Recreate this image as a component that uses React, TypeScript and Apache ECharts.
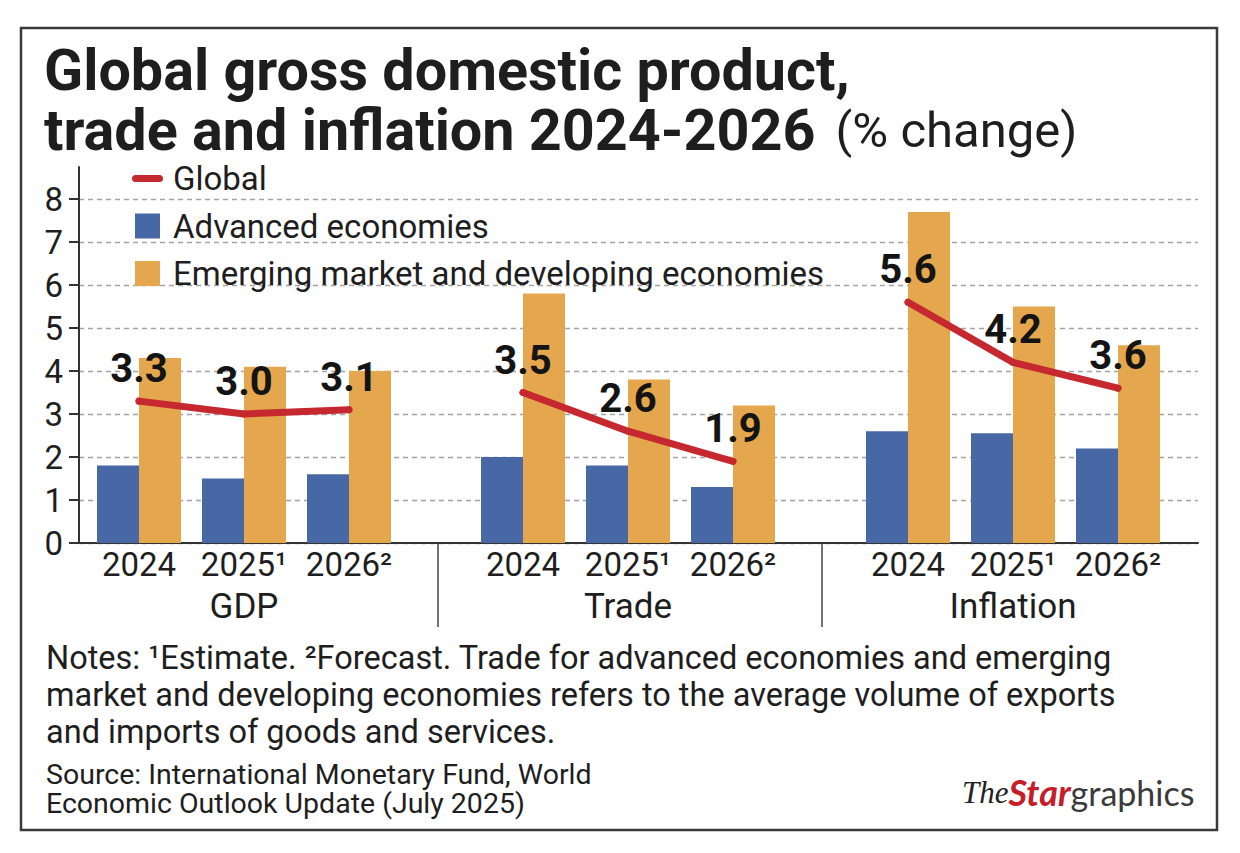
import React, { useEffect, useRef } from 'react';
import * as echarts from 'echarts';

// ---------- data ----------
const groups = ['GDP', 'Trade', 'Inflation'];
const years = ['2024', '2025¹', '2026²'];
const seriesNames = ['Global', 'Advanced economies', 'Emerging market and developing economies'];

const advancedGdp = [1.8, 1.5, 1.6];
const emergingGdp = [4.3, 4.1, 4.0];
const globalGdp = [3.3, 3.0, 3.1];

const advancedTrade = [2.0, 1.8, 1.3];
const emergingTrade = [5.8, 3.8, 3.2];
const globalTrade = [3.5, 2.6, 1.9];

const advancedInflation = [2.6, 2.55, 2.2];
const emergingInflation = [7.7, 5.5, 4.6];
const globalInflation = [5.6, 4.2, 3.6];

const yMin = 0;
const yMax = 8;
const yInterval = 1;

const titleLine1 = 'Global gross domestic product,';
const titleLine2 = 'trade and inflation 2024-2026';
const titleUnit = '(% change)';
const notesLines = [
  'Notes: ¹Estimate. ²Forecast. Trade for advanced economies and emerging',
  'market and developing economies refers to the average volume of exports',
  'and imports of goods and services.',
];
const sourceLines = ['Source: International Monetary Fund, World', 'Economic Outlook Update (July 2025)'];

// ---------- style / layout ----------
const FONT = 'Roboto, "Noto Sans", sans-serif';
const BLUE = '#4868A5';
const ORANGE = '#E4A74D';
const RED = '#C6282F';
const INK = '#1e1e1e';
const AXIS = '#333333';

const PLOT_TOP = 199;
const PLOT_BOTTOM = 310; // 853 - 543
const GROUP_LEFTS = [86.5, 470.5, 855.5];
const GROUP_WIDTH = 315;
const DIVIDERS = [438, 822];

const LINE_ICON = 'path://M0,0M36,25M3.5,9H27.5A3.5,3.5,0,0,1,27.5,16H3.5A3.5,3.5,0,0,1,3.5,9Z';
const SQUARE_ICON = 'path://M0,0M36,25M3,0H28V25H3Z';

function buildOption() {
  const advanced = [advancedGdp, advancedTrade, advancedInflation];
  const emerging = [emergingGdp, emergingTrade, emergingInflation];
  const global = [globalGdp, globalTrade, globalInflation];

  const grid: any[] = [
    { left: 79, right: 42, top: PLOT_TOP, bottom: PLOT_BOTTOM },
    { left: 79, width: 2, top: 167, bottom: PLOT_BOTTOM },
    ...GROUP_LEFTS.map((l) => ({ left: l, width: GROUP_WIDTH, top: PLOT_TOP, bottom: PLOT_BOTTOM })),
  ];

  const xAxis: any[] = [
    {
      gridIndex: 0, type: 'value', min: 0, max: 1,
      axisLine: { show: true, onZero: false, lineStyle: { color: AXIS, width: 2 } },
      axisTick: { show: false }, axisLabel: { show: false }, splitLine: { show: false },
    },
    { gridIndex: 1, type: 'value', show: false },
  ];
  const yAxis: any[] = [
    {
      gridIndex: 0, type: 'value', min: yMin, max: yMax, interval: yInterval,
      axisLine: { show: false },
      axisTick: { show: true, length: 10, lineStyle: { color: AXIS, width: 2 } },
      axisLabel: { fontSize: 33, margin: 16, color: INK, fontFamily: FONT },
      splitLine: { show: true, lineStyle: { type: [5, 4], color: '#a3a3a3', width: 1.3 } },
    },
    {
      gridIndex: 1, type: 'value', min: 0, max: 1,
      axisLine: { show: true, lineStyle: { color: AXIS, width: 2 } },
      axisTick: { show: false }, axisLabel: { show: false }, splitLine: { show: false },
    },
  ];
  const series: any[] = [];

  groups.forEach((g, i) => {
    const gridIndex = 2 + i;
    const yearAxis = xAxis.length;
    xAxis.push({
      gridIndex, type: 'category', data: years, position: 'bottom',
      axisLine: { show: false }, axisTick: { show: false },
      axisLabel: { interval: 0, hideOverlap: false, fontSize: 33, margin: 5, color: INK, fontFamily: FONT },
    });
    xAxis.push({
      gridIndex, type: 'category', data: [g], position: 'bottom',
      axisLine: { show: false }, axisTick: { show: false },
      axisLabel: { interval: 0, fontSize: 35, margin: 46, color: INK, fontFamily: FONT },
    });
    const yIdx = yAxis.length;
    yAxis.push({ gridIndex, type: 'value', min: yMin, max: yMax, interval: yInterval, show: false });

    series.push({
      type: 'bar', name: seriesNames[1], xAxisIndex: yearAxis, yAxisIndex: yIdx,
      data: advanced[i], barWidth: 42, barGap: '0%', itemStyle: { color: BLUE },
    });
    series.push({
      type: 'bar', name: seriesNames[2], xAxisIndex: yearAxis, yAxisIndex: yIdx,
      data: emerging[i], barWidth: 42, barGap: '0%', itemStyle: { color: ORANGE },
    });
    series.push({
      type: 'line', name: seriesNames[0], xAxisIndex: yearAxis, yAxisIndex: yIdx,
      data: global[i], symbol: 'circle', symbolSize: 7, showSymbol: true,
      itemStyle: { color: RED },
      lineStyle: { color: RED, width: 7, cap: 'round', join: 'round' },
      label: {
        show: true, position: 'top', distance: 9,
        formatter: (p: any) => Number(p.value).toFixed(1),
        fontSize: 40, fontWeight: 'bold', color: '#141414', fontFamily: FONT,
      },
      z: 5,
    });
  });

  return {
    animation: false,
    backgroundColor: '#ffffff',
    textStyle: { fontFamily: FONT },
    title: {
      left: 44, top: 40, padding: 0,
      text: `{b|${titleLine1}}\n{b|${titleLine2}}{r| ${titleUnit}}`,
      textStyle: {
        rich: {
          b: { fontSize: 57.5, fontWeight: 'bold', fontFamily: FONT, color: INK, lineHeight: 60 },
          r: { fontSize: 49, fontWeight: 'normal', fontFamily: FONT, color: INK, lineHeight: 60, padding: [0, 0, 0, 8] },
        },
      },
    },
    legend: {
      orient: 'vertical', left: 132, top: 162, padding: 0,
      itemWidth: 36, itemHeight: 25, itemGap: 14.5, selectedMode: false,
      textStyle: { fontSize: 33, color: INK, fontFamily: FONT, lineHeight: 30 },
      data: [
        { name: seriesNames[0], icon: LINE_ICON },
        { name: seriesNames[1], icon: SQUARE_ICON },
        { name: seriesNames[2], icon: SQUARE_ICON },
      ],
    },
    grid, xAxis, yAxis, series,
    graphic: [
      {
        type: 'rect', silent: true, z: -1,
        shape: { x: 21, y: 28, width: 1196, height: 802 },
        style: { fill: 'none', stroke: '#3a3a3a', lineWidth: 2.5 },
      },
      ...DIVIDERS.map((d) => ({
        type: 'line', silent: true,
        shape: { x1: d, y1: 543, x2: d, y2: 627 },
        style: { stroke: '#444', lineWidth: 1.5 },
      })),
      {
        type: 'text', silent: true, x: 46, y: 639,
        style: {
          text: notesLines.join('\n'), fontSize: 32.5, fontFamily: FONT, fill: INK,
          lineHeight: 37, verticalAlign: 'top', align: 'left',
        },
      },
      {
        type: 'text', silent: true, x: 46, y: 760,
        style: {
          text: sourceLines.join('\n'), fontSize: 28.5, fontFamily: FONT, fill: INK,
          lineHeight: 29, verticalAlign: 'top', align: 'left',
        },
      },
      {
        type: 'text', silent: true, x: 962, y: 792,
        style: {
          text: '{t|The}{s|Star}{g|graphics}', verticalAlign: 'middle', align: 'left',
          rich: {
            t: { fontSize: 31, fontStyle: 'italic', fontFamily: '"Liberation Serif", serif', fill: '#222', fontWeight: 'normal' },
            s: { fontSize: 36, fontStyle: 'italic', fontWeight: 'bold', fontFamily: 'Lato, sans-serif', fill: '#C5202A' },
            g: { fontSize: 34, fontFamily: 'Lato, sans-serif', fill: '#3a3a3a' },
          },
        },
      },
    ],
  };
}

export default function App() {
  const ref = useRef<HTMLDivElement>(null);
  useEffect(() => {
    if (!ref.current) return;
    const chart = echarts.init(ref.current, null, { renderer: 'svg' });
    chart.setOption(buildOption() as any);
    return () => chart.dispose();
  }, []);
  return (
    <div
      ref={ref}
      style={{ position: 'fixed', left: 0, top: 0, width: 1240, height: 853, background: '#ffffff' }}
    />
  );
}
